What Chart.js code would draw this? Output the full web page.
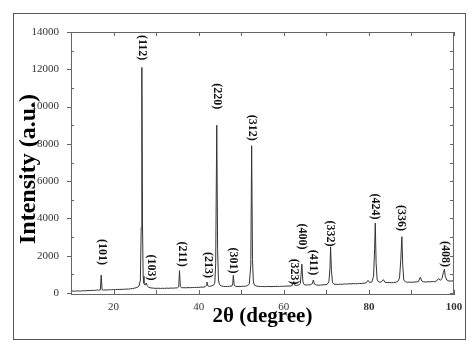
<!DOCTYPE html>
<html>
<head>
<meta charset="utf-8">
<script src="https://cdn.jsdelivr.net/npm/chart.js@4.4.0/dist/chart.umd.min.js"></script>
<style>
html, body { margin: 0; padding: 0; background: #fff; }
#wrap { position: relative; width: 474px; height: 352px; }
#frame { position: absolute; left: 13px; top: 13px; width: 451px; height: 325px; border: 1px solid #555; pointer-events: none; }
</style>
</head>
<body>
<div id="wrap">
  <canvas id="xrd" width="474" height="352"></canvas>
  <div id="frame"></div>
</div>
<script>
// XRD pattern
const twoTheta = [
  10, 10.5, 11, 11.5, 12, 12.5, 13, 13.5, 14, 14.5, 15, 15.5, 16, 16.5,
  16.9, 17.1, 17.3, 17.6, 18, 18.5, 19, 19.5, 20, 20.5, 21, 21.5, 22, 22.5, 23, 23.5, 24, 24.5,
  25, 25.5, 26, 26.3, 26.5, 26.65, 26.8, 26.95, 27.15, 27.4, 27.7, 27.9, 28.3, 28.8, 29.3,
  30, 30.5, 31, 31.5, 32, 32.5, 33, 33.5, 34, 34.5, 35, 35.3, 35.5, 35.7, 36, 36.5, 37, 37.5, 38, 38.5, 39, 39.5, 40, 40.5, 41, 41.5,
  41.8, 41.95, 42.1, 42.5, 43, 43.5, 43.8, 44.0, 44.25, 44.45, 44.65, 44.9, 45.3, 45.8, 46.3, 46.8, 47.3, 47.8,
  48.0, 48.15, 48.35, 48.7, 49, 49.5, 50, 50.5, 51, 51.5, 51.9, 52.25, 52.45, 52.65, 52.85, 53.1, 53.5, 54,
  54.5, 55, 55.5, 56, 56.5, 57, 57.5, 58, 58.5, 59, 59.5, 60, 60.5, 61, 61.5, 62, 62.35, 62.6, 63, 63.5,
  63.9, 64.25, 64.5, 64.8, 65.3, 65.8, 66.3, 66.7, 66.95, 67.2, 67.7, 68.2, 68.7, 69.2, 69.7, 70.2, 70.6, 70.85, 71.0, 71.2, 71.45, 71.8,
  72.3, 72.8, 73.3, 73.8, 74.3, 74.8, 75.3, 75.8, 76.3, 76.8, 77.3, 77.8, 78.3, 78.8, 79.3, 79.8, 80.2,
  80.7, 81.1, 81.35, 81.5, 81.7, 81.95, 82.4, 82.9, 83.4, 83.8, 84.3, 84.8, 85.3, 85.8, 86.3, 86.8,
  87.2, 87.5, 87.75, 87.95, 88.2, 88.6, 89.1, 89.6, 90.1, 90.6, 91.1, 91.6, 92.1, 92.4, 92.9, 93.4, 93.9, 94.4, 94.9, 95.4, 95.9,
  96.4, 96.8, 97.2, 97.5, 97.75, 97.95, 98.3, 98.8, 99.3, 99.8, 100
];
const intensity = [
  90, 110, 100, 120, 105, 115, 130, 120, 140, 130, 150, 140, 160, 155,
  170, 960, 185, 160, 170, 165, 180, 175, 190, 180, 200, 190, 205, 200, 215, 210, 230, 240,
  270, 300, 380, 700, 3500, 12100, 3800, 900, 520, 430, 540, 390, 310, 275, 265,
  250, 262, 245, 258, 250, 265, 255, 270, 262, 275, 280, 330, 1200, 340, 285, 290, 280, 295, 285, 300, 295, 310, 300, 320, 315, 340,
  420, 590, 400, 360, 380, 420, 560, 1600, 9000, 2400, 700, 450, 385, 360, 350, 355, 360, 380,
  500, 950, 420, 360, 350, 360, 355, 365, 370, 400, 480, 1500, 7900, 1800, 600, 430, 380, 360,
  350, 355, 345, 350, 358, 345, 350, 355, 362, 350, 365, 360, 372, 380, 375, 400, 620, 420, 410, 430,
  520, 1550, 600, 450, 430, 440, 450, 500, 700, 480, 430, 420, 430, 440, 450, 470, 600, 1300, 2480, 1200, 560, 480,
  470, 460, 480, 470, 490, 480, 500, 490, 510, 500, 505, 520, 510, 530, 540, 680, 560,
  600, 900, 2400, 3750, 1600, 700, 580, 600, 720, 580, 560, 570, 555, 570, 580, 620,
  800, 1800, 3020, 1500, 700, 600, 580, 590, 580, 590, 600, 610, 850, 650, 600, 590, 610, 600, 620, 610, 650,
  780, 680, 800, 1100, 1280, 900, 700, 650, 640, 660, 650
];

// hkl labels and where they sit (2θ, intensity)
const peakNames = ['(101)', '(112)', '(103)', '(211)', '(213)', '(220)', '(301)', '(312)', '(323)', '(400)', '(411)', '(332)', '(424)', '(336)', '(408)'];
const labelTheta = [17.2, 26.75, 28.9, 36.1, 42.2, 44.3, 48.1, 52.5, 62.4, 64.2, 66.9, 71.0, 81.5, 87.5, 97.9];
const labelHeight = [2200, 13160, 1370, 2090, 1500, 10560, 1740, 8870, 1150, 3030, 1640, 3200, 4640, 4020, 2090];

const xTicks = [10, 20, 30, 40, 50, 60, 70, 80, 90, 100];
const xLabels = [20, 40, 60, 80, 100];
const yTicks = [0, 1000, 2000, 3000, 4000, 5000, 6000, 7000, 8000, 9000, 10000, 11000, 12000, 13000, 14000];
const yLabels = [0, 2000, 4000, 6000, 8000, 10000, 12000, 14000];

const serif = '"Liberation Serif", "Times New Roman", serif';

//ticks on the frame, top and right sides
const frameTicks = {
  id: 'frameTicks',
  afterDraw(chart) {
    const {ctx, chartArea: a, scales: {x, y}} = chart;
    ctx.save();
    ctx.strokeStyle = '#666';
    ctx.lineWidth = 1;
    ctx.beginPath();
    ctx.moveTo(a.left, a.top + 0.5); ctx.lineTo(a.right, a.top + 0.5);
    ctx.moveTo(a.right - 0.5, a.top); ctx.lineTo(a.right - 0.5, a.bottom);
    xTicks.forEach(v => {
      const px = Math.round(x.getPixelForValue(v)) + 0.5;
      ctx.moveTo(px, a.bottom); ctx.lineTo(px, a.bottom - 4);
      ctx.moveTo(px, a.top); ctx.lineTo(px, a.top + 4);
    });
    yTicks.forEach(v => {
      const py = Math.round(y.getPixelForValue(v)) + 0.5;
      ctx.moveTo(a.right, py); ctx.lineTo(a.right - 4, py);
      if (yLabels.includes(v)) {
        ctx.moveTo(a.left, py); ctx.lineTo(a.left - 4, py);
      } else {
        ctx.moveTo(a.left, py); ctx.lineTo(a.left + 3, py);
      }
    });
    ctx.stroke();
    ctx.restore();
  }
};

//hkl labels over the peaks
const peakLabels = {
  id: 'peakLabels',
  afterDatasetsDraw(chart) {
    const {ctx, scales: {x, y}} = chart;
    ctx.save();
    ctx.fillStyle = '#111';
    ctx.font = 'bold 12px ' + serif;
    ctx.textAlign = 'center';
    ctx.textBaseline = 'middle';
    peakNames.forEach((name, i) => {
      ctx.save();
      ctx.translate(x.getPixelForValue(labelTheta[i]), y.getPixelForValue(labelHeight[i]));
      ctx.rotate(Math.PI / 2);
      ctx.fillText(name, 0, 0);
      ctx.restore();
    });
    ctx.restore();
  }
};

const ctx = document.getElementById('xrd').getContext('2d');
const myChart = new Chart(ctx, {
  type: 'line',
  data: {
    datasets: [{
      data: twoTheta.map((t, i) => ({x: t, y: intensity[i]})),
      borderColor: '#333',
      borderWidth: 1,
      pointRadius: 0,
      tension: 0,
      fill: false
    }]
  },
  options: {
    responsive: false,
    animation: false,
    layout: { padding: { left: 0, right: 20, top: 32, bottom: 0 } },
    plugins: {
      legend: { display: false },
      tooltip: { enabled: false }
    },
    scales: {
      x: {
        type: 'linear',
        min: 10,
        max: 100,
        afterBuildTicks: s => { s.ticks = xTicks.map(v => ({value: v})); },
        afterFit: s => { s.height = 58; },
        grid: { display: false },
        border: { display: true, color: '#666', width: 1 },
        ticks: {
          autoSkip: false,
          maxRotation: 0,
          padding: -1,
          color: '#333',
          font: c => ({ family: serif, size: 11, weight: (c.tick && c.tick.value >= 80) ? 'bold' : 'normal' }),
          callback: v => xLabels.includes(v) ? String(v) : ''
        },
        title: {
          display: true,
          text: '2θ (degree)',
          color: '#000',
          font: { family: serif, size: 21, weight: 'bold' },
          padding: { top: 0, bottom: 23 }
        }
      },
      y: {
        min: -50,
        max: 14000,
        afterBuildTicks: s => { s.ticks = yTicks.map(v => ({value: v})); },
        afterFit: s => { s.width = 71; },
        grid: { display: false },
        border: { display: true, color: '#666', width: 1 },
        ticks: {
          padding: 4,
          color: '#333',
          font: { family: serif, size: 11 },
          callback: v => yLabels.includes(v) ? String(v) : ''
        },
        title: {
          display: true,
          text: 'Intensity (a.u.)\u00a0\u00a0',
          color: '#000',
          font: { family: serif, size: 24, weight: 'bold' },
          padding: { top: 14, bottom: 0 }
        }
      }
    }
  },
  plugins: [frameTicks, peakLabels]
});
</script>
</body>
</html>
